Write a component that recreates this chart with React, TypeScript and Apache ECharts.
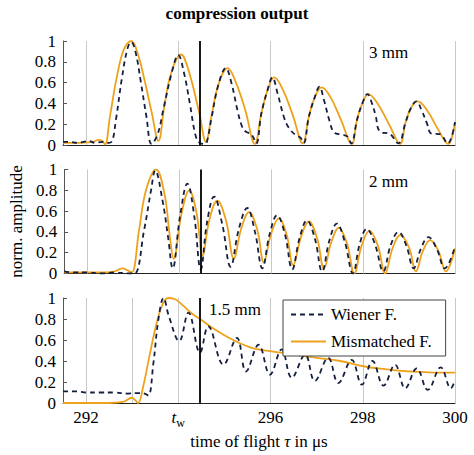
import React, { useEffect, useRef } from 'react';
import * as echarts from 'echarts';

const FONT = 'Liberation Serif';
const NAVY = '#141f3f';
const ORANGE = '#eea21b';

const xMin = 291.5;
const xMax = 300;
const xTickValues = [292, 294, 296, 298, 300];
const gridLinesUpper = [292, 294, 296, 298, 300];
const gridLinesLower = [292, 293, 294, 296, 298, 300];
const twMarker = 294.46;
const seriesNames = ['Wiener F.', 'Mismatched F.'];
const panelLabels = ['3 mm', '2 mm', '1.5 mm'];

// 3 mm panel
const wiener3: number[][] = [
  [291.5, 0.03], [291.65, 0.03], [291.8, 0.02], [291.95, 0.03], [292.05, 0.04], [292.2, 0.02],
  [292.35, 0.03], [292.45, 0.02], [292.55, 0.03], [292.65, 0.25], [292.78, 0.65], [292.9, 0.93],
  [292.98, 0.99], [293.07, 0.9], [293.19, 0.6], [293.31, 0.27], [293.42, 0.01], [293.55, 0.1],
  [293.68, 0.35], [293.85, 0.68], [294.0, 0.865], [294.12, 0.7], [294.25, 0.4], [294.37, 0.1],
  [294.46, 0.02], [294.56, 0.01], [294.62, 0.03], [294.72, 0.26], [294.87, 0.58], [295.03, 0.74],
  [295.15, 0.6], [295.29, 0.32], [295.38, 0.18], [295.46, 0.13], [295.59, 0.1], [295.69, 0.015],
  [295.8, 0.3], [295.93, 0.52], [296.04, 0.65], [296.15, 0.5], [296.29, 0.27], [296.39, 0.17],
  [296.53, 0.1], [296.65, 0.07], [296.72, 0.02], [296.83, 0.27], [296.96, 0.46], [297.06, 0.56],
  [297.16, 0.43], [297.28, 0.23], [297.38, 0.12], [297.55, 0.1], [297.67, 0.08], [297.75, 0.015],
  [297.88, 0.25], [298.0, 0.41], [298.1, 0.49], [298.2, 0.4], [298.28, 0.28], [298.37, 0.13],
  [298.59, 0.105], [298.77, 0.015], [298.93, 0.22], [299.05, 0.36], [299.16, 0.42], [299.28, 0.33],
  [299.39, 0.21], [299.49, 0.11], [299.67, 0.105], [299.84, 0.015], [300, 0.22],
];
const mismatched3: number[][] = [
  [291.5, 0.02], [291.8, 0.02], [292.0, 0.025], [292.15, 0.03], [292.28, 0.05], [292.35, 0.04],
  [292.41, 0.005], [292.52, 0.28], [292.67, 0.66], [292.82, 0.92], [292.98, 1.0], [293.12, 0.88],
  [293.27, 0.62], [293.42, 0.32], [293.57, 0.04], [293.7, 0.38], [293.85, 0.7], [294.06, 0.87],
  [294.22, 0.72], [294.45, 0.32], [294.6, 0.03], [294.72, 0.28], [294.87, 0.58], [295.07, 0.74],
  [295.25, 0.6], [295.45, 0.34], [295.66, 0.01], [295.8, 0.3], [295.93, 0.52], [296.08, 0.65],
  [296.27, 0.53], [296.48, 0.29], [296.7, 0.015], [296.83, 0.27], [296.96, 0.46], [297.11, 0.555],
  [297.3, 0.46], [297.53, 0.24], [297.76, 0.01], [297.88, 0.25], [298.0, 0.41], [298.12, 0.49],
  [298.32, 0.4], [298.57, 0.2], [298.81, 0.01], [298.93, 0.22], [299.05, 0.36], [299.19, 0.42],
  [299.4, 0.33], [299.62, 0.16], [299.85, 0.01], [300, 0.22],
];

// 2 mm panel
const wiener2: number[][] = [
  [291.5, 0.02], [291.7, 0.01], [292.0, 0.01], [292.3, 0.0], [292.6, 0.01], [292.9, 0.0],
  [293.03, 0.0], [293.24, 0.42], [293.39, 0.8], [293.48, 0.99], [293.64, 0.7], [293.76, 0.35],
  [293.86, 0.05], [294.02, 0.55], [294.18, 0.865], [294.33, 0.55], [294.47, 0.04], [294.61, 0.5],
  [294.76, 0.74], [294.94, 0.47], [295.12, 0.065], [295.3, 0.43], [295.48, 0.63], [295.65, 0.4],
  [295.81, 0.05], [295.97, 0.38], [296.13, 0.56], [296.3, 0.38], [296.46, 0.04], [296.62, 0.34],
  [296.78, 0.51], [296.95, 0.34], [297.11, 0.02], [297.27, 0.32], [297.43, 0.48], [297.6, 0.31],
  [297.78, 0.0], [297.93, 0.29], [298.08, 0.43], [298.26, 0.28], [298.44, 0.02], [298.6, 0.27],
  [298.77, 0.4], [298.94, 0.27], [299.1, 0.05], [299.26, 0.24], [299.42, 0.35], [299.6, 0.24],
  [299.78, 0.05], [300, 0.26],
];
const mismatched2: number[][] = [
  [291.5, 0.01], [292.0, 0.01], [292.4, 0.01], [292.6, 0.02], [292.77, 0.05], [292.88, 0.03],
  [292.97, 0.01], [293.13, 0.42], [293.28, 0.8], [293.5, 1.0], [293.68, 0.77], [293.8, 0.35],
  [293.88, 0.14], [294.05, 0.57], [294.22, 0.8], [294.38, 0.58], [294.51, 0.175], [294.66, 0.52],
  [294.83, 0.7], [295.02, 0.51], [295.19, 0.145], [295.35, 0.43], [295.52, 0.59], [295.7, 0.42],
  [295.84, 0.11], [296.0, 0.38], [296.17, 0.53], [296.34, 0.37], [296.48, 0.08], [296.65, 0.35],
  [296.82, 0.5], [297.0, 0.34], [297.15, 0.05], [297.31, 0.3], [297.47, 0.44], [297.65, 0.29],
  [297.81, 0.0], [297.97, 0.27], [298.14, 0.41], [298.32, 0.27], [298.48, 0.0], [298.64, 0.24],
  [298.81, 0.37], [299.0, 0.25], [299.15, 0.02], [299.3, 0.215], [299.46, 0.32], [299.64, 0.215],
  [299.8, 0.02], [300, 0.24],
];

// 1.5 mm panel
const wiener15: number[][] = [
  [291.5, 0.11], [291.8, 0.11], [292.0, 0.1], [292.3, 0.1], [292.6, 0.1], [292.9, 0.09],
  [293.15, 0.095], [293.27, 0.09], [293.35, 0.07], [293.46, 0.38], [293.57, 0.8], [293.68, 1.0],
  [293.8, 0.82], [294.02, 0.59], [294.22, 0.86], [294.47, 0.48], [294.65, 0.73], [294.98, 0.365],
  [295.27, 0.62], [295.47, 0.3], [295.74, 0.555], [295.99, 0.27], [296.24, 0.51], [296.46, 0.24],
  [296.75, 0.46], [296.96, 0.21], [297.25, 0.43], [297.47, 0.19], [297.76, 0.41], [297.98, 0.175],
  [298.21, 0.4], [298.45, 0.165], [298.7, 0.365], [298.92, 0.14], [299.17, 0.33], [299.41, 0.125],
  [299.69, 0.34], [299.91, 0.14], [300, 0.22],
];
const mismatched15: number[][] = [
  [291.5, 0.0], [292.0, 0.0], [292.5, 0.0], [292.8, 0.01], [292.99, 0.05], [293.08, 0.02],
  [293.13, 0.0], [293.24, 0.16], [293.39, 0.48], [293.53, 0.76], [293.66, 0.94], [293.78, 1.0],
  [293.92, 0.99], [294.1, 0.93], [294.3, 0.85], [294.47, 0.8], [294.83, 0.69], [295.19, 0.6],
  [295.63, 0.52], [296.06, 0.49], [296.49, 0.46], [297.0, 0.43], [297.51, 0.4], [298.01, 0.35],
  [298.52, 0.32], [299.02, 0.3], [299.53, 0.29], [300, 0.29],
];

const panels = [
  { wiener: wiener3, mismatched: mismatched3, gridLines: gridLinesUpper, label: panelLabels[0] },
  { wiener: wiener2, mismatched: mismatched2, gridLines: gridLinesUpper, label: panelLabels[1] },
  { wiener: wiener15, mismatched: mismatched15, gridLines: gridLinesLower, label: panelLabels[2] },
];

// plot frames (pixels)
const frames = [
  { top: 41, height: 104 },
  { top: 169.5, height: 104 },
  { top: 298, height: 105 },
];
const labelPos = [
  { x: 369, y: 52 },
  { x: 369, y: 181 },
  { x: 209, y: 309 },
];

export default function App() {
  const ref = useRef<HTMLDivElement>(null);

  useEffect(() => {
    document.body.style.margin = '0';
    if (!ref.current) return;
    const chart = echarts.init(ref.current, undefined, { renderer: 'svg' });

    const grids = frames.map((f) => ({
      left: 63,
      right: 19,
      top: f.top,
      height: f.height,
      containLabel: false,
    }));

    const xAxes = frames.map((_, i) => {
      const last = i === frames.length - 1;
      return {
        type: 'value',
        gridIndex: i,
        min: xMin,
        max: xMax,
        splitLine: { show: false },
        axisTick: { show: false },
        axisLine: { show: true, lineStyle: { color: '#222', width: 1 } },
        axisLabel: last
          ? {
              show: true,
              customValues: xTickValues,
              margin: 6,
              color: '#000',
              fontFamily: FONT,
              fontSize: 17,
              formatter: (v: number) => (v === 294 ? '{t|t}{w|w}' : String(v)),
              rich: {
                t: { fontFamily: FONT, fontSize: 17, fontStyle: 'italic', color: '#000', lineHeight: 20, verticalAlign: 'top' },
                w: { fontFamily: FONT, fontSize: 12, color: '#000', lineHeight: 12, padding: [9, 0, 0, 0], verticalAlign: 'bottom' },
              },
            }
          : { show: false },
        name: last ? 'time of flight {i|τ} in μs' : '',
        nameLocation: 'middle',
        nameGap: 30,
        nameTextStyle: {
          fontFamily: FONT,
          fontSize: 17,
          color: '#000',
          rich: { i: { fontFamily: FONT, fontSize: 17, fontStyle: 'italic', color: '#000' } },
        },
      };
    });

    const yAxes = frames.map((_, i) => ({
      type: 'value',
      gridIndex: i,
      min: 0,
      max: 1,
      interval: 0.2,
      splitLine: { show: false },
      axisLine: { show: true, lineStyle: { color: '#555', width: 1 } },
      axisTick: { show: true, inside: true, length: 4, lineStyle: { color: '#555' } },
      axisLabel: {
        margin: 7,
        color: '#000',
        fontFamily: FONT,
        fontSize: 17,
        formatter: (v: number) => (v === 0 ? '0' : v === 1 ? '1' : v.toFixed(1)),
      },
      name: i === 1 ? 'norm. amplitude' : '',
      nameLocation: 'middle',
      nameRotate: 90,
      nameGap: 38,
      nameTextStyle: { fontFamily: FONT, fontSize: 17, color: '#000' },
    }));

    const series: any[] = [];
    panels.forEach((p, i) => {
      series.push({
        name: seriesNames[0],
        type: 'line',
        xAxisIndex: i,
        yAxisIndex: i,
        data: p.wiener,
        showSymbol: false,
        symbol: 'none',
        smooth: 0.4,
        z: 3,
        lineStyle: { color: NAVY, width: 1.8, type: [5, 4] },
        itemStyle: { color: NAVY },
        markLine: {
          silent: true,
          z: 1,
          symbol: ['none', 'none'],
          label: { show: false },
          lineStyle: { color: '#c8c8c8', width: 1, type: 'solid' },
          data: p.gridLines.map((v) => ({ xAxis: v })),
        },
      });
      series.push({
        name: seriesNames[1],
        type: 'line',
        xAxisIndex: i,
        yAxisIndex: i,
        data: p.mismatched,
        showSymbol: false,
        symbol: 'none',
        smooth: 0.4,
        z: 2,
        lineStyle: { color: ORANGE, width: 1.8 },
        itemStyle: { color: ORANGE },
        markLine: {
          silent: true,
          z: 5,
          symbol: ['none', 'none'],
          label: { show: false },
          lineStyle: { color: '#000', width: 1.8, type: 'solid' },
          data: [{ xAxis: twMarker }],
        },
      });
    });

    chart.setOption({
      animation: false,
      backgroundColor: '#fff',
      title: {
        text: 'compression output',
        left: 'center',
        top: 0,
        textStyle: { fontFamily: FONT, fontSize: 17, fontWeight: 'bold', color: '#000' },
      },
      legend: {
        data: seriesNames,
        orient: 'vertical',
        left: 283,
        top: 300,
        itemWidth: 35,
        itemHeight: 14,
        itemGap: 10,
        padding: [6, 14, 6, 7],
        borderColor: '#444',
        borderWidth: 1,
        backgroundColor: '#fff',
        itemStyle: { opacity: 0 },
        textStyle: { fontFamily: FONT, fontSize: 17, color: '#000' },
        z: 10,
      },
      grid: grids,
      xAxis: xAxes,
      yAxis: yAxes,
      series,
      graphic: panels.map((p, i) => ({
        type: 'text',
        x: labelPos[i].x,
        y: labelPos[i].y,
        z: 20,
        style: {
          text: p.label,
          fontFamily: FONT,
          fontSize: 17,
          fill: '#000',
          align: 'left',
          verticalAlign: 'middle',
        },
      })),
    });

    return () => chart.dispose();
  }, []);

  return <div ref={ref} style={{ width: 474, height: 455 }} />;
}
